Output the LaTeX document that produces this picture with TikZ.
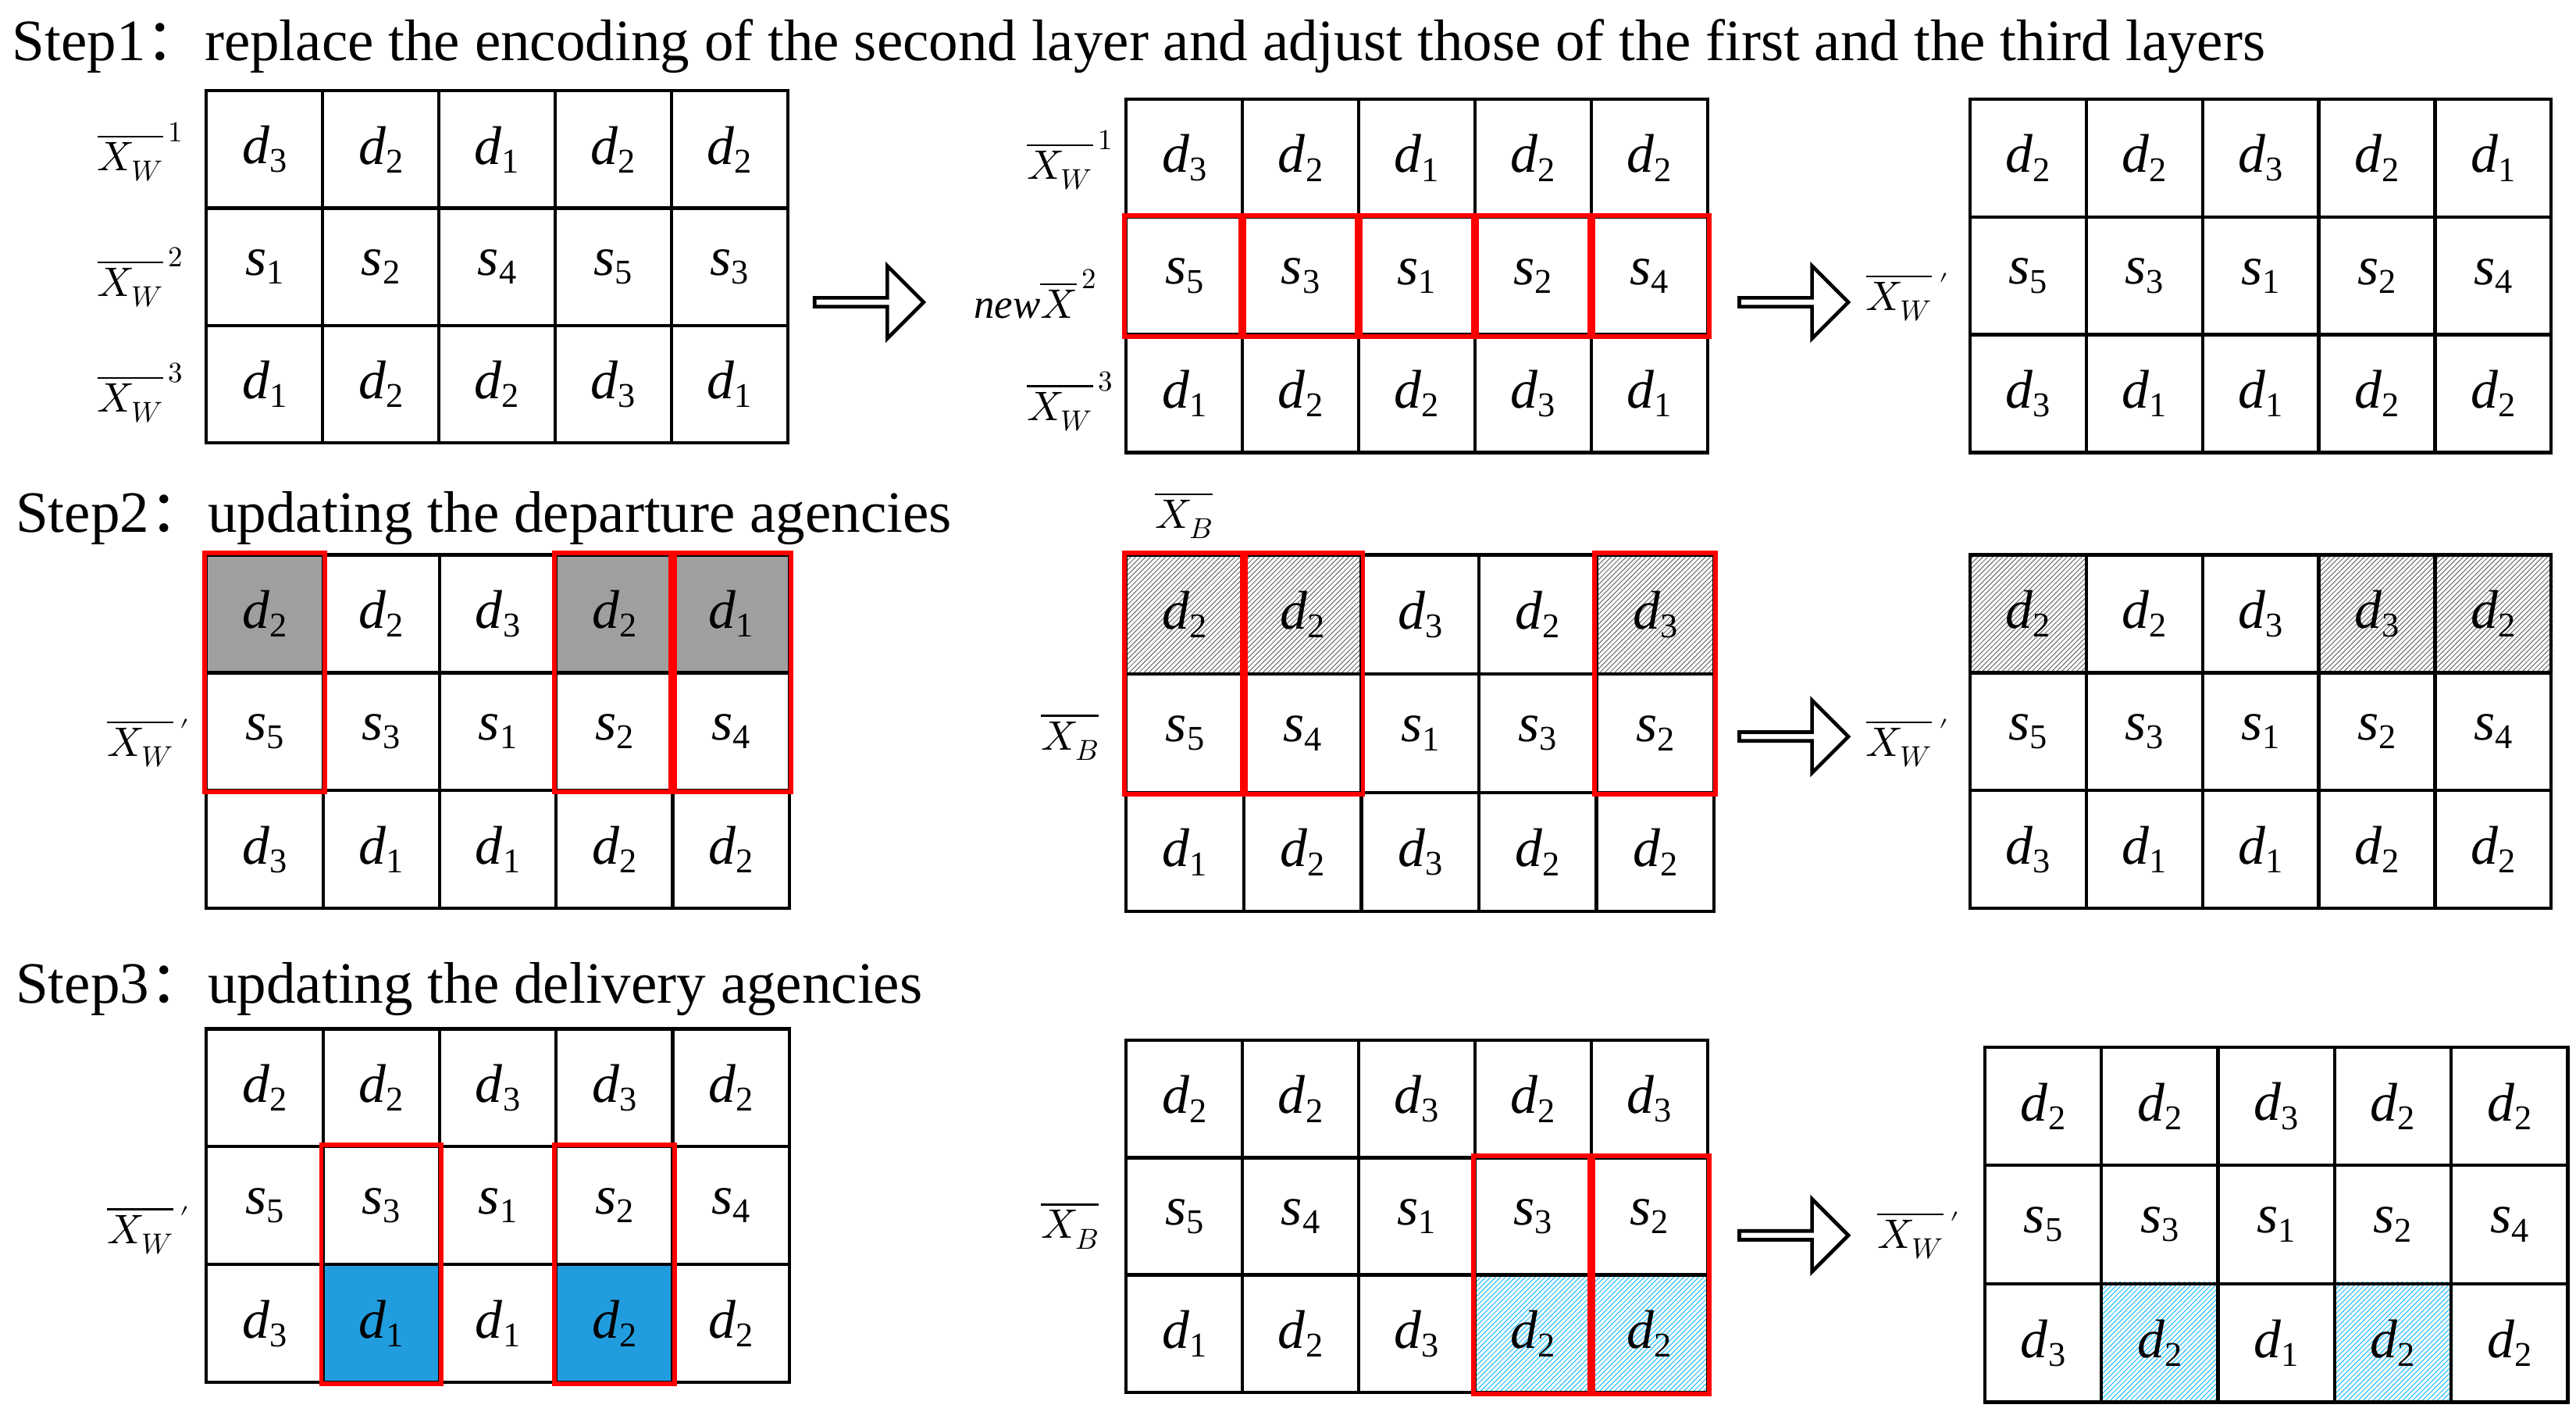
\documentclass[tikz,border=0pt]{standalone}
\usepackage{fontspec}
\setmainfont{Liberation Serif}
\newfontfamily\cjk{Noto Sans CJK SC}
\usepackage{unicode-math}
\setmathfont{Latin Modern Math}
\usetikzlibrary{shapes.arrows,patterns,backgrounds}
\newcommand\cl[2]{\textit{#1}\raisebox{-0.35ex}{\fontsize{21}{21}\selectfont #2}}
\tikzset{
 cell/.style={draw,line width=2pt,inner sep=0pt,font=\fontsize{33}{33}\selectfont},
 lab/.style={font=\fontsize{25}{25}\selectfont},
 title/.style={anchor=west,font=\fontsize{35.5}{35.5}\selectfont},
 hl/.style={draw=red,line width=2.8pt},
 barrow/.style={single arrow,draw,line width=2.2pt,minimum height=66pt,minimum width=44pt,single arrow head extend=8pt,inner sep=0pt,fill=white},
 ghatch/.style={pattern=north east lines,pattern color=gray!70!black},
 chatch/.style={pattern=north east lines,pattern color=cyan!70!blue},
}
\newcommand\grid[8]{%
 \pgfmathsetmacro\gw{(#4-#2)/5}\pgfmathsetmacro\gh{(#5-#3)/3}%
 \foreach \t [count=\c] in {#6}{\node[cell,minimum width=\gw pt,minimum height=\gh pt] (#1-1-\c) at ({#2+(\c-0.5)*\gw},{#3+0.5*\gh}) {\t};}
 \foreach \t [count=\c] in {#7}{\node[cell,minimum width=\gw pt,minimum height=\gh pt] (#1-2-\c) at ({#2+(\c-0.5)*\gw},{#3+1.5*\gh}) {\t};}
 \foreach \t [count=\c] in {#8}{\node[cell,minimum width=\gw pt,minimum height=\gh pt] (#1-3-\c) at ({#2+(\c-0.5)*\gw},{#3+2.5*\gh}) {\t};}
}
\newcommand\hlbox[3]{\draw[hl] (#1.north west) rectangle (#2.south east);}
\begin{document}
\begin{tikzpicture}[x=1pt,y=-1pt]
\useasboundingbox (0,0) rectangle (1560,863);
\node[title] (t1) at (4,28) {Step1{\cjk ：}replace the encoding of the second layer and adjust those of the first and the third layers};
\node[title] (t2) at (6,314) {Step2{\cjk ：}updating the departure agencies};
\node[title] (t3) at (6,599) {Step3{\cjk ：}updating the delivery agencies};
% grids
\grid{A}{125}{55}{477}{268}{\cl d3,\cl d2,\cl d1,\cl d2,\cl d2}{\cl s1,\cl s2,\cl s4,\cl s5,\cl s3}{\cl d1,\cl d2,\cl d2,\cl d3,\cl d1}
\grid{B}{682}{60}{1034}{274}{\cl d3,\cl d2,\cl d1,\cl d2,\cl d2}{\cl s5,\cl s3,\cl s1,\cl s2,\cl s4}{\cl d1,\cl d2,\cl d2,\cl d3,\cl d1}
\grid{C}{1193}{60}{1545}{274}{\cl d2,\cl d2,\cl d3,\cl d2,\cl d1}{\cl s5,\cl s3,\cl s1,\cl s2,\cl s4}{\cl d3,\cl d1,\cl d1,\cl d2,\cl d2}
\grid{D}{125}{336}{478}{550}{\cl d2,\cl d2,\cl d3,\cl d2,\cl d1}{\cl s5,\cl s3,\cl s1,\cl s2,\cl s4}{\cl d3,\cl d1,\cl d1,\cl d2,\cl d2}
\grid{E}{682}{336}{1038}{552}{\cl d2,\cl d2,\cl d3,\cl d2,\cl d3}{\cl s5,\cl s4,\cl s1,\cl s3,\cl s2}{\cl d1,\cl d2,\cl d3,\cl d2,\cl d2}
\grid{F}{1193}{336}{1545}{550}{\cl d2,\cl d2,\cl d3,\cl d3,\cl d2}{\cl s5,\cl s3,\cl s1,\cl s2,\cl s4}{\cl d3,\cl d1,\cl d1,\cl d2,\cl d2}
\grid{G}{125}{623}{478}{837}{\cl d2,\cl d2,\cl d3,\cl d3,\cl d2}{\cl s5,\cl s3,\cl s1,\cl s2,\cl s4}{\cl d3,\cl d1,\cl d1,\cl d2,\cl d2}
\grid{H}{682}{630}{1034}{843}{\cl d2,\cl d2,\cl d3,\cl d2,\cl d3}{\cl s5,\cl s4,\cl s1,\cl s3,\cl s2}{\cl d1,\cl d2,\cl d3,\cl d2,\cl d2}
\grid{I}{1202}{634}{1555}{849}{\cl d2,\cl d2,\cl d3,\cl d2,\cl d2}{\cl s5,\cl s3,\cl s1,\cl s2,\cl s4}{\cl d3,\cl d2,\cl d1,\cl d2,\cl d2}
% fills
\begin{scope}[on background layer]
\foreach \n in {D-1-1,D-1-4,D-1-5}{\fill[gray!75] (\n.north west) rectangle (\n.south east);}
\foreach \n in {E-1-1,E-1-2,E-1-5,F-1-1,F-1-4,F-1-5}{\path[ghatch] (\n.north west) rectangle (\n.south east);}
\foreach \n in {G-3-2,G-3-4}{\fill[cyan!80!blue!90] (\n.north west) rectangle (\n.south east);}
\foreach \n in {H-3-4,H-3-5,I-3-2,I-3-4}{\path[chatch] (\n.north west) rectangle (\n.south east);}
\end{scope}
% highlights
\foreach \c in {1,...,5}{\hlbox{B-2-\c}{B-2-\c}{}}
\foreach \c in {1,4,5}{\hlbox{D-1-\c}{D-2-\c}{}}
\foreach \c in {1,2,5}{\hlbox{E-1-\c}{E-2-\c}{}}
\foreach \c in {2,4}{\hlbox{G-2-\c}{G-3-\c}{}}
\foreach \c in {4,5}{\hlbox{H-2-\c}{H-3-\c}{}}
% labels
\node[lab] (la1) at (85,92) {$\overline{X_W}^{\,1}$};
\node[lab] (la2) at (85,168) {$\overline{X_W}^{\,2}$};
\node[lab] (la3) at (85,238) {$\overline{X_W}^{\,3}$};
\node[lab] (lb1) at (648,97) {$\overline{X_W}^{\,1}$};
\node[lab] (lb2) at (627,178) {$\mathit{new}\overline{X}^{\,2}$};
\node[lab] (lb3) at (648,243) {$\overline{X_W}^{\,3}$};
\node[lab] (lc) at (1155,180) {$\overline{X_W}\,'$};
\node[lab] (ld) at (90,450) {$\overline{X_W}\,'$};
\node[lab] (le0) at (717,312) {$\overline{X_B}$};
\node[lab] (le) at (648,446) {$\overline{X_B}$};
\node[lab] (lf) at (1155,450) {$\overline{X_W}\,'$};
\node[lab] (lg) at (90,745) {$\overline{X_W}\,'$};
\node[lab] (lh) at (648,742) {$\overline{X_B}$};
\node[lab] (li) at (1162,748) {$\overline{X_W}\,'$};
% arrows
\node[barrow] (a1) at (525,183) {};
\node[barrow] (a2) at (1085,183) {};
\node[barrow] (a3) at (1085,446) {};
\node[barrow] (a4) at (1085,748) {};
\end{tikzpicture}
\end{document}
